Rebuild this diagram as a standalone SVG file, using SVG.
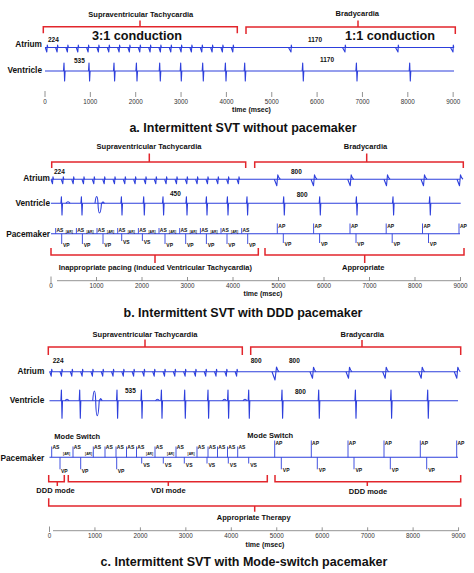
<svg xmlns="http://www.w3.org/2000/svg" width="474" height="573" viewBox="0 0 474 573">
<style>
text{font-family:"Liberation Sans",Arial,sans-serif;fill:#111}
.ttl{font-size:12.5px;font-weight:bold;text-anchor:middle}
.lab{font-size:8.3px;font-weight:bold;text-anchor:end}
.br{font-size:7.5px;font-weight:bold;text-anchor:middle}
.big{font-size:12.7px;font-weight:bold;text-anchor:middle}
.num{font-size:6.5px;font-weight:bold}
.tk{font-size:6.3px;text-anchor:middle;fill:#333}
.tm{font-size:7px;font-weight:bold;text-anchor:middle}
.mk{font-size:5px;font-weight:bold}
.ar{font-size:3.4px;font-weight:bold}
.w{fill:none;stroke:#2d3fdc;stroke-width:1.1;stroke-linejoin:round}
.m{fill:none;stroke:#2d3fdc;stroke-width:0.9}
.red{fill:none;stroke:#e2262c;stroke-width:1.5}
.ax{fill:none;stroke:#777;stroke-width:0.8}
</style>
<defs>
<path id="at" class="w" d="M-2,0 L-0.5,4.5 L0,-2.5 L0.5,0"/>
<path id="ab" class="w" d="M-2.5,0 L0,4.5 L0.3,-2.5 L0.8,0"/>
<path id="ab2" class="w" d="M-3,0 L-0.5,6.5 L0.5,-4.5 Q1.5,-1 3,0"/>
<path id="va" class="w" d="M-0.8,0 L-0.3,-8 L0.3,10 L0.8,0"/>
<path id="vb" class="w" d="M-0.8,0 L-0.3,-6.6 L0.3,11.7 L0.8,0"/>
<path id="vc" class="w" d="M-0.8,0 L-0.3,-10.7 L0.3,17.6 L0.8,0"/>
<path id="vtb" class="w" d="M-4,0 C-3,-9 -1.5,-9 -1,0 C-0.5,13 1.5,13 2.5,0 L4,-1.5 L5.5,0"/>
<path id="vtc" class="w" d="M-4,0 C-3,-13 -1.5,-13 -1,0 C-0.5,20 1.5,20 2.5,0 L4,-2 L5.5,0"/>
<path id="bp" class="w" d="M0,0 Q2,-3 4,0"/>
</defs>

<!-- ===== Panel a ===== -->
<g id="a-brackets">
<path class="red" d="M43.3,33.3 V26.8 H237.3 V33.3 M140,26.8 V20.5"/>
<path class="red" d="M246,34 V27 H455.3 V34 M358,27 V20.5"/>
<text class="br" x="140.8" y="16.5">Supraventricular Tachycardia</text>
<text class="br" x="357.3" y="16">Bradycardia</text>
<text class="big" x="137" y="40">3:1 conduction</text>
<text class="big" x="390" y="40.3">1:1 conduction</text>
</g>
<g id="a-atrium">
<text class="lab" x="42" y="46.7">Atrium</text>
<path class="w" d="M45,47.5 H454"/>
<use href="#at" x="47.3" y="47.5"/><use href="#at" x="57.6" y="47.5"/><use href="#at" x="67.9" y="47.5"/><use href="#at" x="78.3" y="47.5"/><use href="#at" x="88.6" y="47.5"/><use href="#at" x="98.9" y="47.5"/><use href="#at" x="109.3" y="47.5"/><use href="#at" x="119.6" y="47.5"/><use href="#at" x="129.9" y="47.5"/><use href="#at" x="140.3" y="47.5"/><use href="#at" x="150.6" y="47.5"/><use href="#at" x="160.9" y="47.5"/><use href="#at" x="171.3" y="47.5"/><use href="#at" x="181.6" y="47.5"/><use href="#at" x="191.9" y="47.5"/><use href="#at" x="202.3" y="47.5"/><use href="#at" x="212.6" y="47.5"/><use href="#at" x="222.9" y="47.5"/><use href="#at" x="233.3" y="47.5"/>
<use href="#ab" x="291" y="47.5"/><use href="#ab" x="345" y="47.5"/><use href="#ab" x="398" y="47.5"/><use href="#ab" x="453" y="47.5"/>
<text class="num" x="48" y="42">224</text>
<text class="num" x="308" y="41.5">1170</text>
</g>
<g id="a-ventricle">
<text class="lab" x="42" y="72.5">Ventricle</text>
<path class="w" d="M45,71 H454"/>
<use href="#va" x="64.3" y="71"/><use href="#va" x="89.3" y="71"/><use href="#va" x="114.3" y="71"/><use href="#va" x="136.7" y="71"/><use href="#va" x="160" y="71"/><use href="#va" x="181" y="71"/><use href="#va" x="203" y="71"/><use href="#va" x="225.7" y="71"/><use href="#va" x="245" y="71"/><use href="#va" x="303" y="71"/><use href="#va" x="356.7" y="71"/><use href="#va" x="410" y="71"/>
<text class="num" x="74" y="62.7">535</text>
<text class="num" x="320" y="62">1170</text>
</g>
<g id="a-axis">
<path class="ax" d="M45,91 V97 M90.35,92 V97 M135.7,92 V97 M181.05,92 V97 M226.4,92 V97 M271.75,92 V97 M317.1,92 V97 M362.45,92 V97 M407.8,92 V97 M453.15,92 V97"/>
<text class="tk" x="45" y="103.8">0</text><text class="tk" x="90.35" y="103.8">1000</text><text class="tk" x="135.7" y="103.8">2000</text><text class="tk" x="181.05" y="103.8">3000</text><text class="tk" x="226.4" y="103.8">4000</text><text class="tk" x="271.75" y="103.8">5000</text><text class="tk" x="317.1" y="103.8">6000</text><text class="tk" x="362.45" y="103.8">7000</text><text class="tk" x="407.8" y="103.8">8000</text><text class="tk" x="453.15" y="103.8">9000</text>
<text class="tm" x="251.5" y="112">time (msec)</text>
</g>
<text class="ttl" x="243" y="131.7">a. Intermittent SVT without pacemaker</text>

<!-- ===== Panel b ===== -->
<g id="b-brackets">
<path class="red" d="M51.7,168 V162 H245.7 V168 M149.3,162 V153.5"/>
<path class="red" d="M254.7,168 V162 H463.3 V168 M366.7,162 V153.5"/>
<text class="br" x="149" y="149.3">Supraventricular Tachycardia</text>
<text class="br" x="365.5" y="149.3">Bradycardia</text>
</g>
<g id="b-atrium">
<text class="lab" x="50" y="180.7">Atrium</text>
<path class="w" d="M51,179.3 H460"/>
<use href="#at" x="53" y="179.3"/><use href="#at" x="63.3" y="179.3"/><use href="#at" x="73.7" y="179.3"/><use href="#at" x="84" y="179.3"/><use href="#at" x="94.3" y="179.3"/><use href="#at" x="104.7" y="179.3"/><use href="#at" x="115" y="179.3"/><use href="#at" x="125.3" y="179.3"/><use href="#at" x="135.6" y="179.3"/><use href="#at" x="146" y="179.3"/><use href="#at" x="156.3" y="179.3"/><use href="#at" x="166.6" y="179.3"/><use href="#at" x="177" y="179.3"/><use href="#at" x="187.3" y="179.3"/><use href="#at" x="197.6" y="179.3"/><use href="#at" x="208" y="179.3"/><use href="#at" x="218.3" y="179.3"/><use href="#at" x="228.6" y="179.3"/><use href="#at" x="239" y="179.3"/>
<use href="#ab2" x="277.3" y="179.3"/><use href="#ab2" x="314" y="179.3"/><use href="#ab2" x="350.7" y="179.3"/><use href="#ab2" x="387" y="179.3"/><use href="#ab2" x="424" y="179.3"/><use href="#ab2" x="460" y="179.3"/>
<text class="num" x="54" y="174.3">224</text>
<text class="num" x="291" y="174">800</text>
</g>
<g id="b-ventricle">
<text class="lab" x="50" y="206">Ventricle</text>
<path class="w" d="M51,203.3 H460.7"/>
<use href="#vb" x="61.7" y="203.3"/><use href="#bp" x="66" y="203.3"/><use href="#vb" x="81.7" y="203.3"/><use href="#vtb" x="99" y="203.3"/><use href="#vb" x="121.7" y="203.3"/><use href="#vb" x="144" y="203.3"/><use href="#vb" x="163.3" y="203.3"/><use href="#vb" x="186.7" y="203.3"/><use href="#vb" x="206.7" y="203.3"/><use href="#vb" x="227.7" y="203.3"/><use href="#vb" x="247.3" y="203.3"/><use href="#vb" x="284" y="203.3"/><use href="#vb" x="320" y="203.3"/><use href="#vb" x="356.7" y="203.3"/><use href="#vb" x="393.3" y="203.3"/><use href="#vb" x="430" y="203.3"/>
<text class="num" x="170" y="196">450</text>
<text class="num" x="296.7" y="196.7">800</text>
</g>
<g id="b-pacemaker">
<text class="lab" x="50" y="236.5">Pacemaker</text>
<path class="w" d="M51,233.7 H460"/>
<path class="m" d="M55.7,233.7 V228 M76.4,233.7 V228 M97,233.7 V228 M117.7,233.7 V228 M138.4,233.7 V228 M159,233.7 V228 M179.7,233.7 V228 M200.4,233.7 V228 M221,233.7 V228 M241.7,233.7 V228"/>
<text class="mk" x="56.5" y="231.7">AS</text><text class="mk" x="77.2" y="231.7">AS</text><text class="mk" x="97.8" y="231.7">AS</text><text class="mk" x="118.5" y="231.7">AS</text><text class="mk" x="139.2" y="231.7">AS</text><text class="mk" x="159.8" y="231.7">AS</text><text class="mk" x="180.5" y="231.7">AS</text><text class="mk" x="201.2" y="231.7">AS</text><text class="mk" x="221.8" y="231.7">AS</text><text class="mk" x="242.5" y="231.7">AS</text>
<text class="ar" x="65.7" y="233.3">[AR]</text><text class="ar" x="86.4" y="233.3">[AR]</text><text class="ar" x="107" y="233.3">[AR]</text><text class="ar" x="127.7" y="233.3">[AR]</text><text class="ar" x="148.4" y="233.3">[AR]</text><text class="ar" x="169" y="233.3">[AR]</text><text class="ar" x="189.7" y="233.3">[AR]</text><text class="ar" x="210.4" y="233.3">[AR]</text><text class="ar" x="231" y="233.3">[AR]</text>
<path class="m" d="M61.7,233.7 V244 M82.4,233.7 V244 M103,233.7 V244 M121.7,233.7 V241 M142.4,233.7 V241 M165,233.7 V244 M185.7,233.7 V244 M206.4,233.7 V244 M227,233.7 V244 M247.7,233.7 V244"/>
<text class="mk" x="63" y="246.5">VP</text><text class="mk" x="83.7" y="246.5">VP</text><text class="mk" x="104.3" y="246.5">VP</text><text class="mk" x="123" y="244">VS</text><text class="mk" x="143.7" y="244">VS</text><text class="mk" x="166.3" y="246.5">VP</text><text class="mk" x="187" y="246.5">VP</text><text class="mk" x="207.7" y="246.5">VP</text><text class="mk" x="228.3" y="246.5">VP</text><text class="mk" x="249" y="246.5">VP</text>
<path class="m" d="M277.3,233.7 V223.5 M313.6,233.7 V223.5 M350,233.7 V223.5 M386.2,233.7 V223.5 M422.5,233.7 V223.5 M459,233.7 V223.5"/>
<text class="mk" x="278.3" y="228">AP</text><text class="mk" x="314.6" y="228">AP</text><text class="mk" x="351" y="228">AP</text><text class="mk" x="387.2" y="228">AP</text><text class="mk" x="423.5" y="228">AP</text><text class="mk" x="460" y="228">AP</text>
<path class="m" d="M283.3,233.7 V243 M319.6,233.7 V243 M356,233.7 V243 M392.2,233.7 V243 M428.5,233.7 V243"/>
<text class="mk" x="284.6" y="246">VP</text><text class="mk" x="320.9" y="246">VP</text><text class="mk" x="357.3" y="246">VP</text><text class="mk" x="393.5" y="246">VP</text><text class="mk" x="429.8" y="246">VP</text>
</g>
<g id="b-outcome">
<path class="red" d="M51,248 V255 H258.3 V248 M155,255 V263"/>
<path class="red" d="M265,248 V255 H464 V248 M364.7,255 V263"/>
<text class="br" x="155.3" y="270" style="font-size:7.4px">Inappropriate pacing (induced Ventricular Tachycardia)</text>
<text class="br" x="363.3" y="270">Appropriate</text>
</g>
<g id="b-axis">
<path class="ax" d="M57,280.7 H460.5 M51,276.5 V283 M96.5,277 V281 M142,277 V281 M187.5,277 V281 M233,277 V281 M278.5,277 V281 M324,277 V281 M369.5,277 V281 M415,277 V281 M460.5,277 V281"/>
<text class="tk" x="51" y="288.3">0</text><text class="tk" x="96.5" y="288.3">1000</text><text class="tk" x="142" y="288.3">2000</text><text class="tk" x="187.5" y="288.3">3000</text><text class="tk" x="233" y="288.3">4000</text><text class="tk" x="278.5" y="288.3">5000</text><text class="tk" x="324" y="288.3">6000</text><text class="tk" x="369.5" y="288.3">7000</text><text class="tk" x="415" y="288.3">8000</text><text class="tk" x="460.5" y="288.3">9000</text>
<text class="tm" x="263" y="296">time (msec)</text>
</g>
<text class="ttl" x="243" y="317">b. Intermittent SVT with DDD pacemaker</text>

<!-- ===== Panel c ===== -->
<g id="c-brackets">
<path class="red" d="M48.3,355 V347 H242.3 V355 M145,347 V339.5"/>
<path class="red" d="M250.7,355 V347 H460.7 V355 M362,347 V340"/>
<text class="br" x="145" y="337.3">Supraventricular Tachycardia</text>
<text class="br" x="362.3" y="336.7">Bradycardia</text>
</g>
<g id="c-atrium">
<text class="lab" x="44.3" y="373.5">Atrium</text>
<path class="w" d="M49.5,371.7 H458"/>
<use href="#at" x="51.7" y="371.7"/><use href="#at" x="62" y="371.7"/><use href="#at" x="72.3" y="371.7"/><use href="#at" x="82.6" y="371.7"/><use href="#at" x="92.9" y="371.7"/><use href="#at" x="103.2" y="371.7"/><use href="#at" x="113.5" y="371.7"/><use href="#at" x="123.8" y="371.7"/><use href="#at" x="134.1" y="371.7"/><use href="#at" x="144.4" y="371.7"/><use href="#at" x="154.7" y="371.7"/><use href="#at" x="165" y="371.7"/><use href="#at" x="175.3" y="371.7"/><use href="#at" x="185.6" y="371.7"/><use href="#at" x="195.9" y="371.7"/><use href="#at" x="206.2" y="371.7"/><use href="#at" x="216.5" y="371.7"/><use href="#at" x="226.8" y="371.7"/><use href="#at" x="237.1" y="371.7"/>
<path class="w" d="M272,371.7 L275,380 L276.5,367 Q277.5,370.5 279,371.7"/>
<use href="#ab2" x="313" y="371.7"/><use href="#ab2" x="349" y="371.7"/><use href="#ab2" x="385.7" y="371.7"/><use href="#ab2" x="421.7" y="371.7"/><use href="#ab2" x="457.3" y="371.7"/>
<text class="num" x="52.7" y="363.3">224</text>
<text class="num" x="250.7" y="363.3">800</text>
<text class="num" x="289" y="363.3">800</text>
</g>
<g id="c-ventricle">
<text class="lab" x="44.3" y="402.7">Ventricle</text>
<path class="w" d="M49.5,400.7 H458"/>
<use href="#vc" x="61.7" y="400.7"/><use href="#bp" x="65" y="400.7"/><use href="#vc" x="80" y="400.7"/><use href="#vtc" x="96.7" y="400.7"/><use href="#vc" x="117.3" y="400.7"/><use href="#vc" x="141.7" y="400.7"/><use href="#bp" x="155.5" y="400.7"/><use href="#vc" x="161.7" y="400.7"/><use href="#vc" x="185" y="400.7"/><use href="#vc" x="208.3" y="400.7"/><use href="#bp" x="222.5" y="400.7"/><use href="#vc" x="228.3" y="400.7"/><use href="#bp" x="243" y="400.7"/><use href="#vc" x="249" y="400.7"/><use href="#vc" x="282.3" y="400.7"/><use href="#vc" x="319" y="400.7"/><use href="#vc" x="355.7" y="400.7"/><use href="#vc" x="391.3" y="400.7"/><use href="#vc" x="428" y="400.7"/>
<text class="num" x="125" y="393.3">535</text>
<text class="num" x="295" y="394">800</text>
</g>
<g id="c-pacemaker">
<text class="br" x="54.3" y="439.3" style="text-anchor:start">Mode Switch</text>
<text class="br" x="247.3" y="438.3" style="text-anchor:start">Mode Switch</text>
<text class="lab" x="44.3" y="460.7">Pacemaker</text>
<path class="w" d="M49.5,457.3 H458"/>
<path class="m" d="M51.7,457.3 V446.5 M73,457.3 V446.5 M93.3,457.3 V446.5 M105,457.3 V446.5 M116,457.3 V446.5 M126.5,457.3 V446.5 M136.5,457.3 V446.5 M155,457.3 V446.5 M176,457.3 V446.5 M197,457.3 V446.5 M208,457.3 V446.5 M217.5,457.3 V446.5 M227.5,457.3 V446.5 M237.7,457.3 V446.5"/>
<text class="mk" x="52.5" y="449.3">AS</text><text class="mk" x="73.8" y="449.3">AS</text><text class="mk" x="94.1" y="449.3">AS</text><text class="mk" x="105.8" y="449.3">AS</text><text class="mk" x="116.8" y="449.3">AS</text><text class="mk" x="127.3" y="449.3">AS</text><text class="mk" x="137.3" y="449.3">AS</text><text class="mk" x="155.8" y="449.3">AS</text><text class="mk" x="176.8" y="449.3">AS</text><text class="mk" x="197.8" y="449.3">AS</text><text class="mk" x="208.8" y="449.3">AS</text><text class="mk" x="218.3" y="449.3">AS</text><text class="mk" x="228.3" y="449.3">AS</text><text class="mk" x="238.5" y="449.3">AS</text>
<text class="ar" x="63" y="454.5">[AR]</text><text class="ar" x="85" y="454.5">[AR]</text><text class="ar" x="146" y="454.5">[AR]</text><text class="ar" x="167" y="454.5">[AR]</text><text class="ar" x="187.5" y="454.5">[AR]</text>
<path class="m" d="M60,457.3 V469.3 M80.7,457.3 V469.3 M116.7,457.3 V469.3"/>
<text class="mk" x="61" y="472.5">VP</text><text class="mk" x="81.7" y="472.5">VP</text><text class="mk" x="117.7" y="472.5">VP</text>
<path class="m" d="M141.7,457.3 V463.5 M163.3,457.3 V463.5 M184.3,457.3 V463.5 M207,457.3 V463.5 M228.3,457.3 V463.5 M248.7,457.3 V463.5"/>
<text class="mk" x="143.2" y="466.5">VS</text><text class="mk" x="164.8" y="466.5">VS</text><text class="mk" x="185.8" y="466.5">VS</text><text class="mk" x="208.5" y="466.5">VS</text><text class="mk" x="229.8" y="466.5">VS</text><text class="mk" x="250.2" y="466.5">VS</text>
<path class="m" d="M274.7,457.3 V440.5 M311.3,457.3 V440.5 M348,457.3 V440.5 M384,457.3 V440.5 M420.3,457.3 V440.5 M456.7,457.3 V440.5"/>
<text class="mk" x="275.5" y="445">AP</text><text class="mk" x="312.1" y="445">AP</text><text class="mk" x="348.8" y="445">AP</text><text class="mk" x="384.8" y="445">AP</text><text class="mk" x="421.1" y="445">AP</text><text class="mk" x="457.5" y="445">AP</text>
<path class="m" d="M281.3,457.3 V469.3 M317.3,457.3 V469.3 M354,457.3 V469.3 M390.3,457.3 V469.3 M426.7,457.3 V469.3"/>
<text class="mk" x="282.8" y="472.3">VP</text><text class="mk" x="318.8" y="472.3">VP</text><text class="mk" x="355.5" y="472.3">VP</text><text class="mk" x="391.8" y="472.3">VP</text><text class="mk" x="428.2" y="472.3">VP</text>
</g>
<g id="c-modes">
<path class="red" d="M48.7,475 V481.7 H64.3 V475 M57.3,481.7 V486"/>
<path class="red" d="M68.3,475 V481.7 H267.3 V475 M168.3,481.7 V486"/>
<path class="red" d="M275,475 V481.7 H460.7 V475 M367.3,481.7 V486"/>
<path class="red" d="M48.7,498.3 V506 H460.7 V498.3 M254.7,506 V511.7"/>
<text class="br" x="55.5" y="493.3">DDD mode</text>
<text class="br" x="168.3" y="493.3">VDI mode</text>
<text class="br" x="368" y="494">DDD mode</text>
<text class="br" x="253.7" y="520">Appropriate Therapy</text>
</g>
<g id="c-axis">
<path class="ax" d="M53,530.7 H458.5 M49.5,526.5 V532 M94.95,527.3 V531 M140.4,527.3 V531 M185.85,527.3 V531 M231.3,527.3 V531 M276.75,527.3 V531 M322.2,527.3 V531 M367.65,527.3 V531 M413.1,527.3 V531 M458.55,527.3 V531"/>
<text class="tk" x="49.5" y="537.7">0</text><text class="tk" x="94.95" y="537.7">1000</text><text class="tk" x="140.4" y="537.7">2000</text><text class="tk" x="185.85" y="537.7">3000</text><text class="tk" x="231.3" y="537.7">4000</text><text class="tk" x="276.75" y="537.7">5000</text><text class="tk" x="322.2" y="537.7">6000</text><text class="tk" x="367.65" y="537.7">7000</text><text class="tk" x="413.1" y="537.7">8000</text><text class="tk" x="458.55" y="537.7">9000</text>
<text class="tm" x="265" y="547.3">time (msec)</text>
</g>
<text class="ttl" x="244" y="565.5">c. Intermittent SVT with Mode-switch pacemaker</text>
</svg>
